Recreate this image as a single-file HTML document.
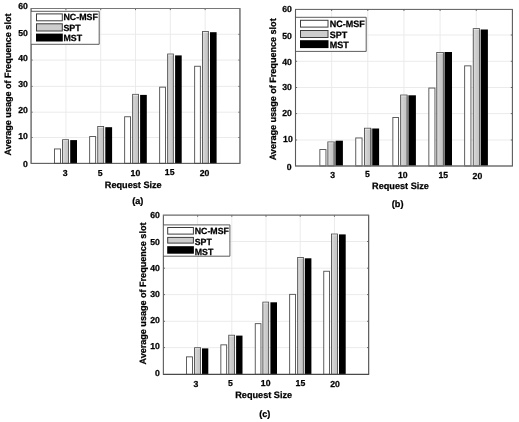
<!DOCTYPE html>
<html lang="en">
<head>
<meta charset="utf-8">
<title>Average usage of Frequence slot vs Request Size</title>
<style>
html,body{margin:0;padding:0;background:#fff;}
body{width:519px;height:422px;overflow:hidden;}
svg{display:block;}
svg text{font-family:"Liberation Sans", sans-serif;font-weight:bold;fill:#000;stroke:#000;stroke-width:0.25px;text-rendering:geometricPrecision;}
</style>
</head>
<body>
<svg width="519" height="422" viewBox="0 0 519 422">
<defs><linearGradient id="gb" x1="0" y1="0" x2="1" y2="0"><stop offset="0" stop-color="#dedede"/><stop offset="0.45" stop-color="#cccccc"/><stop offset="1" stop-color="#c4c4c4"/></linearGradient></defs>
<rect width="519" height="422" fill="#fff"/>
<g id="chart-a">
<path d="M65.91 8.5V163.35M100.71 8.5V163.35M135.52 8.5V163.35M170.33 8.5V163.35M205.13 8.5V163.35M31.1 137.5H239.94M31.1 112.2H239.94M31.1 86.4H239.94M31.1 60.1H239.94M31.1 34.3H239.94" stroke="#e9e9e9" stroke-width="0.9" fill="none"/>
<path d="M65.91 8.5v1.6M100.71 8.5v1.6M135.52 8.5v1.6M170.33 8.5v1.6M205.13 8.5v1.6M31.1 137.5h1.6M239.94 137.5h-1.6M31.1 112.2h1.6M239.94 112.2h-1.6M31.1 86.4h1.6M239.94 86.4h-1.6M31.1 60.1h1.6M239.94 60.1h-1.6M31.1 34.3h1.6M239.94 34.3h-1.6" stroke="#4a4a4a" stroke-width="0.8" fill="none"/>
<rect x="54.45" y="148.95" width="6" height="14.4" fill="#ffffff" stroke="#4e4e4e" stroke-width="0.9"/>
<rect x="62.55" y="139.75" width="6" height="23.6" fill="url(#gb)" stroke="#4e4e4e" stroke-width="0.9"/>
<rect x="63" y="140.2" width="5.1" height="0.9" fill="#fff" fill-opacity="0.6"/>
<rect x="70.2" y="140.1" width="6.8" height="23.25" fill="#000"/>
<rect x="89.65" y="136.55" width="6" height="26.8" fill="#ffffff" stroke="#4e4e4e" stroke-width="0.9"/>
<rect x="97.75" y="126.45" width="5.9" height="36.9" fill="url(#gb)" stroke="#4e4e4e" stroke-width="0.9"/>
<rect x="98.2" y="126.9" width="5" height="0.9" fill="#fff" fill-opacity="0.6"/>
<rect x="105.3" y="127.2" width="6.8" height="36.15" fill="#000"/>
<rect x="124.65" y="116.75" width="5.9" height="46.6" fill="#ffffff" stroke="#4e4e4e" stroke-width="0.9"/>
<rect x="132.65" y="94.35" width="5.8" height="69" fill="url(#gb)" stroke="#4e4e4e" stroke-width="0.9"/>
<rect x="133.1" y="94.8" width="4.9" height="0.9" fill="#fff" fill-opacity="0.6"/>
<rect x="140.1" y="94.9" width="6.7" height="68.45" fill="#000"/>
<rect x="159.65" y="87.15" width="5.8" height="76.2" fill="#ffffff" stroke="#4e4e4e" stroke-width="0.9"/>
<rect x="167.65" y="54.05" width="5.7" height="109.3" fill="url(#gb)" stroke="#4e4e4e" stroke-width="0.9"/>
<rect x="168.1" y="54.5" width="4.8" height="0.9" fill="#fff" fill-opacity="0.6"/>
<rect x="175.1" y="55.4" width="6.6" height="107.95" fill="#000"/>
<rect x="194.65" y="66.25" width="5.7" height="97.1" fill="#ffffff" stroke="#4e4e4e" stroke-width="0.9"/>
<rect x="202.55" y="31.45" width="5.8" height="131.9" fill="url(#gb)" stroke="#4e4e4e" stroke-width="0.9"/>
<rect x="203" y="31.9" width="4.9" height="0.9" fill="#fff" fill-opacity="0.6"/>
<rect x="210" y="32.2" width="6.6" height="131.15" fill="#000"/>
<path d="M30.6 8.5H240.44" stroke="#777777" stroke-width="1" fill="none"/>
<path d="M30.6 163.35H240.44" stroke="#484848" stroke-width="1" fill="none"/>
<path d="M31.1 8.5V163.35" stroke="#707070" stroke-width="1.5" fill="none"/>
<path d="M239.94 8.5V163.35" stroke="#707070" stroke-width="1.5" fill="none"/>
<rect x="31.6" y="11.3" width="67.6" height="33" fill="#fff"/>
<path d="M31.1 11.3H99.2V44.3H31.1" fill="none" stroke="#4a4a4a" stroke-width="0.9"/>
<rect x="36.5" y="13.9" width="25.8" height="6.9" fill="#ffffff" stroke="#3c3c3c" stroke-width="1.0"/>
<text transform="translate(63.4 20.1) scale(0.99 1)" font-size="8.95" text-anchor="start">NC-MSF</text>
<rect x="36.5" y="23.8" width="25.8" height="7.2" fill="#cdcdcd" stroke="#3c3c3c" stroke-width="1.0"/>
<text transform="translate(63.4 30.7) scale(0.99 1)" font-size="8.95" text-anchor="start">SPT</text>
<rect x="36" y="33.6" width="26.8" height="7.9" fill="#000"/>
<text transform="translate(63.4 40.8) scale(0.99 1)" font-size="8.95" text-anchor="start">MST</text>
<text transform="translate(27.9 8.9) scale(1.0 1)" font-size="8.7" text-anchor="end">60</text>
<text transform="translate(27.9 36) scale(1.0 1)" font-size="8.7" text-anchor="end">50</text>
<text transform="translate(27.9 61) scale(1.0 1)" font-size="8.7" text-anchor="end">40</text>
<text transform="translate(27.9 87.4) scale(1.0 1)" font-size="8.7" text-anchor="end">30</text>
<text transform="translate(27.9 113) scale(1.0 1)" font-size="8.7" text-anchor="end">20</text>
<text transform="translate(27.9 139.3) scale(1.0 1)" font-size="8.7" text-anchor="end">10</text>
<text transform="translate(27.9 166.5) scale(1.0 1)" font-size="8.7" text-anchor="end">0</text>
<text transform="translate(65.2 176.1) scale(1.0 1)" font-size="8.7" text-anchor="middle">3</text>
<text transform="translate(100.2 175.5) scale(1.0 1)" font-size="8.7" text-anchor="middle">5</text>
<text transform="translate(135.4 176.1) scale(1.0 1)" font-size="8.7" text-anchor="middle">10</text>
<text transform="translate(169.7 175.4) scale(1.0 1)" font-size="8.7" text-anchor="middle">15</text>
<text transform="translate(204.5 176.1) scale(1.0 1)" font-size="8.7" text-anchor="middle">20</text>
<text transform="translate(133.25 187.6) scale(0.995 1)" font-size="9.2" text-anchor="middle">Request Size</text>
<text transform="translate(137.8 204) scale(0.995 1)" font-size="9.2" text-anchor="middle">(a)</text>
<text transform="translate(11 84.55) rotate(-90) scale(0.985 1)" font-size="9.2" text-anchor="middle">Average usage of Frequence slot</text>
</g>
<g id="chart-b">
<path d="M331.65 9.4V165.95M367.8 9.4V165.95M403.95 9.4V165.95M440.1 9.4V165.95M476.25 9.4V165.95M295.5 140H512.4M295.5 113.6H512.4M295.5 87.5H512.4M295.5 61.3H512.4M295.5 35H512.4" stroke="#e9e9e9" stroke-width="0.9" fill="none"/>
<path d="M331.65 9.4v1.6M367.8 9.4v1.6M403.95 9.4v1.6M440.1 9.4v1.6M476.25 9.4v1.6M295.5 140h1.6M512.4 140h-1.6M295.5 113.6h1.6M512.4 113.6h-1.6M295.5 87.5h1.6M512.4 87.5h-1.6M295.5 61.3h1.6M512.4 61.3h-1.6M295.5 35h1.6M512.4 35h-1.6" stroke="#4a4a4a" stroke-width="0.8" fill="none"/>
<rect x="334.2" y="141.5" width="1.8" height="24.45" fill="#a0a0a0"/>
<rect x="319.85" y="149.55" width="6.1" height="16.4" fill="#ffffff" stroke="#4e4e4e" stroke-width="0.9"/>
<rect x="327.85" y="141.95" width="6.2" height="24" fill="url(#gb)" stroke="#4e4e4e" stroke-width="0.9"/>
<rect x="328.3" y="142.4" width="5.3" height="0.9" fill="#fff" fill-opacity="0.6"/>
<rect x="335.7" y="140.7" width="7.2" height="25.25" fill="#000"/>
<rect x="370.8" y="128.5" width="1.8" height="37.45" fill="#a0a0a0"/>
<rect x="355.75" y="137.95" width="6.3" height="28" fill="#ffffff" stroke="#4e4e4e" stroke-width="0.9"/>
<rect x="364.55" y="128.25" width="6.1" height="37.7" fill="url(#gb)" stroke="#4e4e4e" stroke-width="0.9"/>
<rect x="365" y="128.7" width="5.2" height="0.9" fill="#fff" fill-opacity="0.6"/>
<rect x="372.3" y="128.5" width="6.8" height="37.45" fill="#000"/>
<rect x="407.2" y="95.3" width="1.8" height="70.65" fill="#a0a0a0"/>
<rect x="392.85" y="117.45" width="5.6" height="48.5" fill="#ffffff" stroke="#4e4e4e" stroke-width="0.9"/>
<rect x="400.65" y="95.05" width="6.4" height="70.9" fill="url(#gb)" stroke="#4e4e4e" stroke-width="0.9"/>
<rect x="401.1" y="95.5" width="5.5" height="0.9" fill="#fff" fill-opacity="0.6"/>
<rect x="408.7" y="95.3" width="7.2" height="70.65" fill="#000"/>
<rect x="443.5" y="52" width="1.6" height="113.95" fill="#a0a0a0"/>
<rect x="428.85" y="88.05" width="6.1" height="77.9" fill="#ffffff" stroke="#4e4e4e" stroke-width="0.9"/>
<rect x="436.75" y="52.45" width="6.6" height="113.5" fill="url(#gb)" stroke="#4e4e4e" stroke-width="0.9"/>
<rect x="437.2" y="52.9" width="5.7" height="0.9" fill="#fff" fill-opacity="0.6"/>
<rect x="444.8" y="52" width="7.2" height="113.95" fill="#000"/>
<rect x="479.7" y="29.5" width="1.6" height="136.45" fill="#a0a0a0"/>
<rect x="464.65" y="65.85" width="6.3" height="100.1" fill="#ffffff" stroke="#4e4e4e" stroke-width="0.9"/>
<rect x="473.25" y="28.65" width="6.3" height="137.3" fill="url(#gb)" stroke="#4e4e4e" stroke-width="0.9"/>
<rect x="473.7" y="29.1" width="5.4" height="0.9" fill="#fff" fill-opacity="0.6"/>
<rect x="481" y="29.5" width="6.9" height="136.45" fill="#000"/>
<path d="M295 9.4H512.9" stroke="#5a5a5a" stroke-width="1" fill="none"/>
<path d="M295 165.95H512.9" stroke="#707070" stroke-width="1.5" fill="none"/>
<path d="M295.5 9.4V165.95" stroke="#5a5a5a" stroke-width="1.1" fill="none"/>
<path d="M512.4 9.4V165.95" stroke="#5a5a5a" stroke-width="1.1" fill="none"/>
<rect x="296" y="17.3" width="70.2" height="34.1" fill="#fff"/>
<path d="M295.5 17.3H366.2V51.4H295.5" fill="none" stroke="#4a4a4a" stroke-width="0.9"/>
<rect x="300.5" y="20.3" width="27.5" height="6.8" fill="#ffffff" stroke="#3c3c3c" stroke-width="1.0"/>
<text transform="translate(329.7 26.85) scale(0.98 1)" font-size="9.2" text-anchor="start">NC-MSF</text>
<rect x="300.5" y="30.5" width="27.5" height="7" fill="#cdcdcd" stroke="#3c3c3c" stroke-width="1.0"/>
<text transform="translate(329.7 37.85) scale(0.98 1)" font-size="9.2" text-anchor="start">SPT</text>
<rect x="300" y="40.2" width="28.5" height="7.9" fill="#000"/>
<text transform="translate(329.7 47.95) scale(0.98 1)" font-size="9.2" text-anchor="start">MST</text>
<text transform="translate(291.8 11.8) scale(0.99 1)" font-size="8.75" text-anchor="end">60</text>
<text transform="translate(291.8 38.5) scale(0.99 1)" font-size="8.75" text-anchor="end">50</text>
<text transform="translate(291.8 64.5) scale(0.99 1)" font-size="8.75" text-anchor="end">40</text>
<text transform="translate(291.8 90.3) scale(0.99 1)" font-size="8.75" text-anchor="end">30</text>
<text transform="translate(291.8 116.3) scale(0.99 1)" font-size="8.75" text-anchor="end">20</text>
<text transform="translate(292.7 142) scale(0.99 1)" font-size="8.75" text-anchor="end">10</text>
<text transform="translate(291.55 169.8) scale(0.99 1)" font-size="8.75" text-anchor="end">0</text>
<text transform="translate(332.7 177.9) scale(0.99 1)" font-size="8.75" text-anchor="middle">3</text>
<text transform="translate(367.4 177) scale(0.99 1)" font-size="8.75" text-anchor="middle">5</text>
<text transform="translate(402.7 177.7) scale(0.99 1)" font-size="8.75" text-anchor="middle">10</text>
<text transform="translate(443.2 177.5) scale(0.99 1)" font-size="8.75" text-anchor="middle">15</text>
<text transform="translate(477.4 178.6) scale(0.99 1)" font-size="8.75" text-anchor="middle">20</text>
<text transform="translate(400.5 189) scale(0.995 1)" font-size="9.2" text-anchor="middle">Request Size</text>
<text transform="translate(397.6 207.1) scale(0.995 1)" font-size="9.2" text-anchor="middle">(b)</text>
<text transform="translate(275.9 89.35) rotate(-90) scale(0.985 1)" font-size="9.2" text-anchor="middle">Average usage of Frequence slot</text>
</g>
<g id="chart-c">
<path d="M197.61 215.2V374.35M231.82 215.2V374.35M266.02 215.2V374.35M300.23 215.2V374.35M334.44 215.2V374.35M163.4 347.6H368.65M163.4 321.3H368.65M163.4 294.6H368.65M163.4 268.2H368.65M163.4 241.5H368.65" stroke="#e9e9e9" stroke-width="0.9" fill="none"/>
<path d="M197.61 215.2v1.6M231.82 215.2v1.6M266.02 215.2v1.6M300.23 215.2v1.6M334.44 215.2v1.6M163.4 347.6h1.6M368.65 347.6h-1.6M163.4 321.3h1.6M368.65 321.3h-1.6M163.4 294.6h1.6M368.65 294.6h-1.6M163.4 268.2h1.6M368.65 268.2h-1.6M163.4 241.5h1.6M368.65 241.5h-1.6" stroke="#4a4a4a" stroke-width="0.8" fill="none"/>
<rect x="186.45" y="356.85" width="6" height="17.5" fill="#ffffff" stroke="#4e4e4e" stroke-width="0.9"/>
<rect x="194.55" y="347.75" width="6" height="26.6" fill="url(#gb)" stroke="#4e4e4e" stroke-width="0.9"/>
<rect x="195" y="348.2" width="5.1" height="0.9" fill="#fff" fill-opacity="0.6"/>
<rect x="202" y="348.4" width="6.3" height="25.95" fill="#000"/>
<rect x="220.85" y="344.85" width="5.8" height="29.5" fill="#ffffff" stroke="#4e4e4e" stroke-width="0.9"/>
<rect x="228.75" y="335.25" width="5.8" height="39.1" fill="url(#gb)" stroke="#4e4e4e" stroke-width="0.9"/>
<rect x="229.2" y="335.7" width="4.9" height="0.9" fill="#fff" fill-opacity="0.6"/>
<rect x="236.1" y="335.6" width="6.4" height="38.75" fill="#000"/>
<rect x="255.25" y="323.65" width="5.7" height="50.7" fill="#ffffff" stroke="#4e4e4e" stroke-width="0.9"/>
<rect x="262.85" y="302.15" width="5.8" height="72.2" fill="url(#gb)" stroke="#4e4e4e" stroke-width="0.9"/>
<rect x="263.3" y="302.6" width="4.9" height="0.9" fill="#fff" fill-opacity="0.6"/>
<rect x="270.4" y="302.3" width="6.6" height="72.05" fill="#000"/>
<rect x="289.65" y="294.35" width="5.8" height="80" fill="#ffffff" stroke="#4e4e4e" stroke-width="0.9"/>
<rect x="297.65" y="257.45" width="5.7" height="116.9" fill="url(#gb)" stroke="#4e4e4e" stroke-width="0.9"/>
<rect x="298.1" y="257.9" width="4.8" height="0.9" fill="#fff" fill-opacity="0.6"/>
<rect x="304.8" y="258.3" width="6.6" height="116.05" fill="#000"/>
<rect x="323.75" y="271.25" width="5.7" height="103.1" fill="#ffffff" stroke="#4e4e4e" stroke-width="0.9"/>
<rect x="331.55" y="234.05" width="6" height="140.3" fill="url(#gb)" stroke="#4e4e4e" stroke-width="0.9"/>
<rect x="332" y="234.5" width="5.1" height="0.9" fill="#fff" fill-opacity="0.6"/>
<rect x="339" y="234.4" width="6.7" height="139.95" fill="#000"/>
<path d="M162.9 215.2H369.15" stroke="#6a6a6a" stroke-width="1.3" fill="none"/>
<path d="M162.9 374.35H369.15" stroke="#4a4a4a" stroke-width="1.1" fill="none"/>
<path d="M163.4 215.2V374.35" stroke="#666666" stroke-width="1.2" fill="none"/>
<path d="M368.65 215.2V374.35" stroke="#5a5a5a" stroke-width="1.2" fill="none"/>
<rect x="163.9" y="224.9" width="66" height="31.3" fill="#fff"/>
<path d="M163.4 224.9H229.9V256.2H163.4" fill="none" stroke="#4a4a4a" stroke-width="0.9"/>
<rect x="167.7" y="227.5" width="25.7" height="6.6" fill="#ffffff" stroke="#3c3c3c" stroke-width="1.0"/>
<text transform="translate(194.7 234.1) scale(0.985 1)" font-size="8.95" text-anchor="start">NC-MSF</text>
<rect x="167.7" y="237.4" width="25.7" height="5.7" fill="#cdcdcd" stroke="#3c3c3c" stroke-width="1.0"/>
<text transform="translate(194.7 245.3) scale(0.985 1)" font-size="8.95" text-anchor="start">SPT</text>
<rect x="167.2" y="246.2" width="26.7" height="7.5" fill="#000"/>
<text transform="translate(194.7 255.2) scale(0.985 1)" font-size="8.95" text-anchor="start">MST</text>
<text transform="translate(159.9 217.5) scale(1.0 1)" font-size="8.7" text-anchor="end">60</text>
<text transform="translate(159.9 244.6) scale(1.0 1)" font-size="8.7" text-anchor="end">50</text>
<text transform="translate(159.9 271) scale(1.0 1)" font-size="8.7" text-anchor="end">40</text>
<text transform="translate(159.9 297) scale(1.0 1)" font-size="8.7" text-anchor="end">30</text>
<text transform="translate(159.9 323.15) scale(1.0 1)" font-size="8.7" text-anchor="end">20</text>
<text transform="translate(159.9 348.8) scale(1.0 1)" font-size="8.7" text-anchor="end">10</text>
<text transform="translate(159.9 375.5) scale(1.0 1)" font-size="8.7" text-anchor="end">0</text>
<text transform="translate(195.8 386.6) scale(1.0 1)" font-size="8.7" text-anchor="middle">3</text>
<text transform="translate(230.5 385.9) scale(1.0 1)" font-size="8.7" text-anchor="middle">5</text>
<text transform="translate(265.7 386.4) scale(1.0 1)" font-size="8.7" text-anchor="middle">10</text>
<text transform="translate(300.4 386) scale(1.0 1)" font-size="8.7" text-anchor="middle">15</text>
<text transform="translate(335 386.6) scale(1.0 1)" font-size="8.7" text-anchor="middle">20</text>
<text transform="translate(263.65 397.9) scale(0.995 1)" font-size="9.2" text-anchor="middle">Request Size</text>
<text transform="translate(264.8 417.4) scale(0.995 1)" font-size="9.2" text-anchor="middle">(c)</text>
<text transform="translate(145.6 293.55) rotate(-90) scale(0.985 1)" font-size="9.2" text-anchor="middle">Average usage of Frequence slot</text>
</g>
</svg>
</body>
</html>
